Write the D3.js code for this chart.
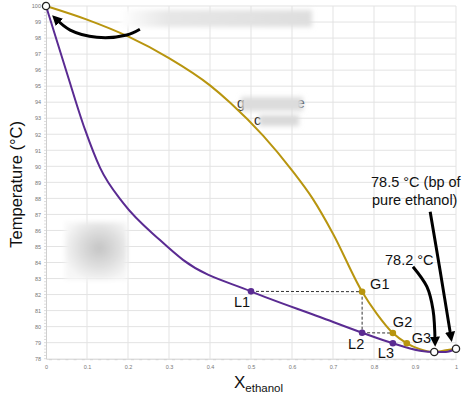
<!DOCTYPE html>
<html>
<head>
<meta charset="utf-8">
<script src="https://cdn.jsdelivr.net/npm/d3@7"></script>
<style>
  body { margin: 0; background: #fff; }
  svg { display: block; font-family: "Liberation Sans", Arial, sans-serif; }
</style>
</head>
<body>
<svg width="474" height="399"></svg>
<script>
// gas (vapour) curve
const gasX = [0, 0.1, 0.2, 0.3, 0.4, 0.45, 0.53, 0.6, 0.65, 0.7, 0.771, 0.807, 0.846, 0.88, 0.912, 0.947, 0.975, 1];
const gasT = [100, 99.15, 98.1, 96.75, 95.05, 93.95, 91.9, 89.75, 88.0, 85.8, 82.18, 80.8, 79.6, 78.96, 78.6, 78.42, 78.52, 78.62];
// liquid curve
const liqX = [0, 0.05, 0.095, 0.132, 0.189, 0.278, 0.335, 0.5, 0.668, 0.771, 0.846, 0.912, 0.947, 0.975, 1];
const liqT = [100, 95.9, 92.3, 89.9, 87.69, 85.4, 84.15, 82.2, 80.6, 79.62, 78.96, 78.5, 78.42, 78.42, 78.62];

const liqPoints = [["L1", 0.5, 82.2], ["L2", 0.771, 79.62], ["L3", 0.846, 78.96]];
const gasPoints = [["G1", 0.771, 82.18], ["G2", 0.846, 79.6], ["G3", 0.88, 78.96]];
const openPoints = [[0, 100], [0.947, 78.42], [1, 78.62]];

const xTicks = [0, 0.1, 0.2, 0.3, 0.4, 0.5, 0.6, 0.7, 0.8, 0.9, 1];
const yTicks = d3.range(78, 101);

// arrows, in data coordinates
const arrows = [
  [[0.229, 98.55], [0.197, 98.19], [0.124, 98.05], [0.059, 98.5], [0.022, 99.25]],
  [[0.895, 83.74], [0.929, 82.49], [0.944, 81.04], [0.949, 79.0]],
  [[0.937, 87.17], [0.961, 83.53], [0.988, 79.3]]
];

const gold = "#b8950f";
const purple = "#5a2b92";

const svg = d3.select("svg");
const x = d3.scaleLinear().domain([0, 1]).range([46, 456]);
const y = d3.scaleLinear().domain([78, 100]).range([358.7, 6]);

// grid
svg.append("g")
  .selectAll("line")
  .data(xTicks.slice(1))
  .join("line")
  .attr("x1", (d) => x(d)).attr("x2", (d) => x(d))
  .attr("y1", y(100)).attr("y2", y(78))
  .attr("stroke", "#e3e3e3");
svg.append("g")
  .selectAll("line")
  .data(yTicks.slice(1))
  .join("line")
  .attr("x1", x(0)).attr("x2", x(1))
  .attr("y1", (d) => y(d)).attr("y2", (d) => y(d))
  .attr("stroke", "#e3e3e3");

// minor ticks
svg.append("g")
  .selectAll("line")
  .data(d3.range(0, 50).map((i) => i * 0.02))
  .join("line")
  .attr("x1", (d) => x(d) + 3).attr("x2", (d) => x(d) + 6)
  .attr("y1", y(78) + 1).attr("y2", y(78) + 1)
  .attr("stroke", "#d6d6d6");
svg.append("g")
  .selectAll("line")
  .data(d3.range(0, 110).map((i) => 78 + i * 0.2))
  .join("line")
  .attr("x1", x(0) - 2).attr("x2", x(0))
  .attr("y1", (d) => y(d)).attr("y2", (d) => y(d))
  .attr("stroke", "#dcdcdc");

// axes
const xAxis = svg.append("g")
  .attr("transform", `translate(0,${y(78)})`)
  .call(d3.axisBottom(x).tickValues(xTicks).tickSize(0).tickPadding(6)
    .tickFormat((d) => (d === 0 || d === 1 ? d : d3.format(".1f")(d))));
const yAxis = svg.append("g")
  .attr("transform", `translate(${x(0)},0)`)
  .call(d3.axisLeft(y).tickValues(yTicks).tickSize(0).tickPadding(5));
[xAxis, yAxis].forEach((a) => {
  a.select(".domain").attr("stroke", "#cfcfcf");
  a.selectAll("text").attr("fill", "#777").attr("font-size", 5.5);
});

// axis titles
svg.append("text")
  .attr("transform", `translate(22,${(y(78) + y(100)) / 2 + 2})rotate(-90)`)
  .attr("text-anchor", "middle")
  .attr("font-size", 16.5)
  .attr("fill", "#111")
  .text("Temperature (°C)");
const xt = svg.append("text")
  .attr("x", 234).attr("y", 388)
  .attr("font-size", 17)
  .attr("fill", "#111");
xt.append("tspan").text("X");
xt.append("tspan").attr("dy", 4).attr("font-size", 11.5).text("ethanol");

// blurred boxes (redacted labels)
const defs = svg.append("defs");
defs.append("filter").attr("id", "blur")
  .attr("x", "-20%").attr("y", "-40%").attr("width", "140%").attr("height", "180%")
  .append("feGaussianBlur").attr("stdDeviation", 2.5);
defs.append("linearGradient").attr("id", "fade")
  .selectAll("stop")
  .data([["0%", "#ffffff"], ["25%", "#e6e6e6"], ["100%", "#dedede"]])
  .join("stop")
  .attr("offset", (d) => d[0]).attr("stop-color", (d) => d[1]);
defs.append("radialGradient").attr("id", "spot").attr("cx", "55%").attr("cy", "45%").attr("r", "60%")
  .selectAll("stop")
  .data([["0%", "#c4c4c4"], ["60%", "#e2e2e2"], ["100%", "#f7f7f7"]])
  .join("stop")
  .attr("offset", (d) => d[0]).attr("stop-color", (d) => d[1]);

svg.append("text").attr("x", 237).attr("y", 108).attr("font-size", 14).attr("fill", "#111").text("g");
svg.append("text").attr("x", 297).attr("y", 108).attr("font-size", 14).attr("fill", "#111").text("e");
svg.append("text").attr("x", 254).attr("y", 125).attr("font-size", 14).attr("fill", "#111").text("c");
svg.append("rect").attr("x", 241).attr("y", 97).attr("width", 62).attr("height", 14)
  .attr("fill", "#dcdcdc").attr("filter", "url(#blur)");
svg.append("rect").attr("x", 259).attr("y", 115).attr("width", 40).attr("height", 11)
  .attr("fill", "#d9d9d9").attr("filter", "url(#blur)");
svg.append("rect").attr("x", 120).attr("y", 10).attr("width", 192).attr("height", 17)
  .attr("fill", "url(#fade)").attr("filter", "url(#blur)");
svg.append("rect").attr("x", 65).attr("y", 222).attr("width", 62).attr("height", 58)
  .attr("fill", "url(#spot)").attr("filter", "url(#blur)");

// curves
const line = d3.line().curve(d3.curveMonotoneX);
svg.append("path")
  .attr("d", line(gasX.map((d, i) => [x(d), y(gasT[i])])))
  .attr("fill", "none").attr("stroke", gold).attr("stroke-width", 2);
svg.append("path")
  .attr("d", line(liqX.map((d, i) => [x(d), y(liqT[i])])))
  .attr("fill", "none").attr("stroke", purple).attr("stroke-width", 2);

// tie lines
const tie = [
  [liqPoints[0], gasPoints[0]],
  [gasPoints[0], liqPoints[1]],
  [liqPoints[1], gasPoints[1]]
];
svg.append("g")
  .selectAll("line")
  .data(tie)
  .join("line")
  .attr("x1", (d) => x(d[0][1])).attr("y1", (d) => y(d[0][2]))
  .attr("x2", (d) => x(d[1][1])).attr("y2", (d) => y(d[1][2]))
  .attr("stroke", "#333").attr("stroke-width", 1).attr("stroke-dasharray", "3,2");

// points
svg.append("g").selectAll("circle").data(liqPoints).join("circle")
  .attr("cx", (d) => x(d[1])).attr("cy", (d) => y(d[2])).attr("r", 3.3).attr("fill", purple);
svg.append("g").selectAll("circle").data(gasPoints).join("circle")
  .attr("cx", (d) => x(d[1])).attr("cy", (d) => y(d[2])).attr("r", 3.3).attr("fill", gold);
svg.append("g").selectAll("circle").data(openPoints).join("circle")
  .attr("cx", (d) => x(d[0])).attr("cy", (d) => y(d[1])).attr("r", 3.6)
  .attr("fill", "#fff").attr("stroke", "#222").attr("stroke-width", 1.3);

// point labels
const labelOffset = { L1: [-17, 16], L2: [-14, 16], L3: [-15, 15], G1: [8, -3], G2: [0, -6], G3: [5, 0] };
svg.append("g").selectAll("text").data([...liqPoints, ...gasPoints]).join("text")
  .attr("x", (d) => x(d[1]) + labelOffset[d[0]][0])
  .attr("y", (d) => y(d[2]) + labelOffset[d[0]][1])
  .attr("font-size", 14.5).attr("fill", "#111")
  .text((d) => d[0]);

// annotations
svg.append("text").attr("x", 385).attr("y", 265).attr("font-size", 14.5).attr("fill", "#111").text("78.2 °C");
svg.append("text").attr("x", 371).attr("y", 187).attr("font-size", 14.5).attr("fill", "#111").text("78.5 °C (bp of");
svg.append("text").attr("x", 372).attr("y", 205).attr("font-size", 14.5).attr("fill", "#111").text("pure ethanol)");

defs.append("marker").attr("id", "head")
  .attr("viewBox", "0 0 10 10").attr("refX", 6).attr("refY", 5)
  .attr("markerWidth", 3.4).attr("markerHeight", 3.4).attr("orient", "auto")
  .append("path").attr("d", "M0,0L10,5L0,10z").attr("fill", "#000");
const arrowLine = d3.line().curve(d3.curveCatmullRom);
svg.append("g").selectAll("path").data(arrows).join("path")
  .attr("d", (d) => arrowLine(d.map((p) => [x(p[0]), y(p[1])])))
  .attr("fill", "none").attr("stroke", "#000").attr("stroke-width", 3)
  .attr("marker-end", "url(#head)");
</script>
</body>
</html>
